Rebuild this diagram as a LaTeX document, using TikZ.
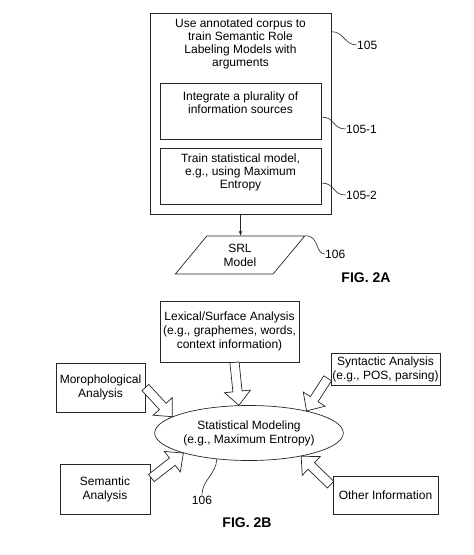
\documentclass[tikz,border=0pt]{standalone}
\usepackage{fontspec}
\setmainfont{Liberation Sans}
\usetikzlibrary{calc,shapes.geometric,arrows.meta}

\tikzset{
  box/.style={draw=black!85, line width=0.7pt, rectangle},
  txt/.style={align=center, font=\fontsize{12}{14}\selectfont, inner sep=1pt},
  toptxt/.style={txt, font=\fontsize{12}{13}\selectfont},
  lbl/.style={anchor=west, font=\fontsize{12}{14}\selectfont, inner sep=0pt},
  lead/.style={draw=black!85, line width=0.6pt},
  figlbl/.style={font=\fontsize{14}{16}\selectfont\bfseries, inner sep=0pt},
  srlbox/.style={trapezium, draw=black!85, line width=0.7pt, trapezium stretches=true,
    trapezium left angle=56, trapezium right angle=124, minimum width=130, minimum height=38},
}

% hollow block arrow from #1 to #2
\newcommand*{\blockarrow}[2]{%
  \draw[line width=0.7pt, draw=black!85, fill=white]
    let \p1=(#1), \p2=(#2), \n1={atan2(\y2-\y1,\x2-\x1)} in
    ($(\p1)+(\n1+90:4.6pt)$) -- ($(\p2)+(\n1+180:14pt)+(\n1+90:4.6pt)$)
    -- ($(\p2)+(\n1+180:14pt)+(\n1+90:13pt)$) -- (\p2)
    -- ($(\p2)+(\n1+180:14pt)+(\n1-90:13pt)$) -- ($(\p2)+(\n1+180:14pt)+(\n1-90:4.6pt)$)
    -- ($(\p1)+(\n1-90:4.6pt)$) -- cycle;
}

\begin{document}
\begin{tikzpicture}[x=1pt, y=-1pt]
    \useasboundingbox (0,0) rectangle (474,555);

    % FIG. 2A
    \node[box, minimum width=181, minimum height=201] (train) at (240.5,113.5) {};
    \node[toptxt] (traintxt) at (240.5,44) {Use annotated corpus to\\train Semantic Role\\Labeling Models with\\arguments};
    \node[box, minimum width=161, minimum height=56] (integ) at (240.5,111) {};
    \node[toptxt] (integtxt) at (240.5,103) {Integrate a plurality of\\information sources};
    \node[box, minimum width=161, minimum height=56] (model) at (240.5,176) {};
    \node[toptxt] (modeltxt) at (240.5,172) {Train statistical model,\\e.g., using Maximum\\Entropy};

    \node[srlbox, txt] (srl) at (240,255) {SRL\\Model};
    \draw[lead, -{Stealth[length=5pt,width=3.5pt]}] (train.south) -- (train.south |- srl.north);

    \node[lbl] (l105) at (357,45) {105};
    \node[lbl] (l1051) at (346,129) {105-1};
    \node[lbl] (l1052) at (346,195) {105-2};
    \node[lbl] (l106a) at (325,254) {106};
    \draw[lead] ($(train.north east)+(0,19)$) .. controls +(13,0) and +(-13,0) .. (l105.west);
    \draw[lead] ($(integ.east)+(0,6)$) .. controls +(14,0) and +(-14,0) .. (l1051.west);
    \draw[lead] ($(model.east)+(0,7)$) .. controls +(14,0) and +(-14,0) .. (l1052.west);
    \draw[lead] (srl.top right corner) .. controls +(14,0) and +(-10,0) .. (l106a.west);

    \node[figlbl] (fig2a) at (366,278) {FIG. 2A};

    % FIG. 2B
    \node[box, txt, minimum width=139, minimum height=61] (lex) at (229.5,331.5) {Lexical/Surface Analysis\\(e.g., graphemes, words,\\context information)};
    \node[box, txt, minimum width=109, minimum height=32] (syn) at (385.5,369) {Syntactic Analysis\\(e.g., POS, parsing)};
    \node[box, txt, minimum width=89, minimum height=49] (morph) at (100.5,387.5) {Morophological\\Analysis};
    \node[ellipse, draw=black!85, line width=0.7pt, txt, minimum width=188, minimum height=55] (stat) at (249,433) {Statistical Modeling\\(e.g., Maximum Entropy)};
    \node[box, txt, minimum width=90, minimum height=50] (sem) at (105,489) {Semantic\\Analysis};
    \node[box, txt, minimum width=105, minimum height=38] (other) at (385.5,495) {Other Information};

    \blockarrow{morph.east}{stat.168}
    \blockarrow{$(lex.south)+(5,0)$}{stat.110}
    \blockarrow{$(syn.south west)+(-3,-7)$}{stat.21}
    \blockarrow{$(sem.east)+(1,-11)$}{stat.197}
    \blockarrow{$(other.north west)+(-2,9)$}{stat.-24}

    \node[txt] (l106b) at (202,500) {106};
    \draw[lead] (stat.219) .. controls +(0,14) and +(0,-14) .. (l106b.north);

    \node[figlbl] (fig2b) at (247,523) {FIG. 2B};

\end{tikzpicture}
\end{document}
